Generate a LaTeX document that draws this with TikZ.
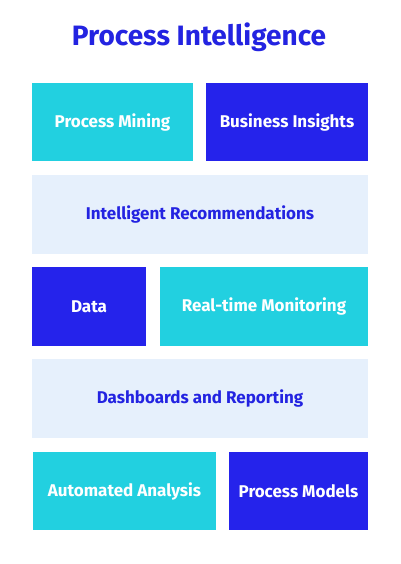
\documentclass[tikz,border=0pt]{standalone}
\usepackage{fontspec}
\setmainfont{Fira Sans}
\definecolor{cyanbox}{RGB}{34,208,224}
\definecolor{bluebox}{RGB}{37,35,235}
\definecolor{lightbox}{RGB}{230,240,252}
\definecolor{titleblue}{RGB}{35,35,225}
\tikzset{
  box/.style={anchor=north west, inner sep=0pt, outer sep=0pt, draw=none, font=\fontsize{17}{20}\selectfont\bfseries},
  cyanstyle/.style={box, fill=cyanbox, text=white},
  bluestyle/.style={box, fill=bluebox, text=white},
  lightstyle/.style={box, fill=lightbox, text=titleblue},
}
\newcommand{\bx}[7]{% name, style, x1, y1, x2, y2, text
  \node[#2, minimum width={(#5-#3)*1pt}, minimum height={(#6-#4)*1pt}] (#1) at (#3pt,-#4pt) {#7};}
\begin{document}
\begin{tikzpicture}[x=1pt,y=1pt]
\useasboundingbox[fill=white] (0,0) rectangle (400,-564);
\node[text=titleblue, font=\fontsize{28}{32}\selectfont\bfseries] (title) at (199,-37) {Process Intelligence};
\bx{pm}{cyanstyle}{32}{83}{193}{161}{Process Mining}
\bx{bi}{bluestyle}{206}{83}{368}{161}{Business Insights}
\bx{ir}{lightstyle}{32}{175}{368}{254}{Intelligent Recommendations}
\bx{da}{bluestyle}{32}{267}{146}{346}{Data}
\bx{rt}{cyanstyle}{160}{267}{368}{346}{Real-time Monitoring}
\bx{dr}{lightstyle}{32}{359}{368}{438}{Dashboards and Reporting}
\bx{aa}{cyanstyle}{33}{452}{216}{530}{Automated Analysis}
\bx{pmo}{bluestyle}{229}{452}{368}{530}{Process Models}
\end{tikzpicture}
\end{document}
